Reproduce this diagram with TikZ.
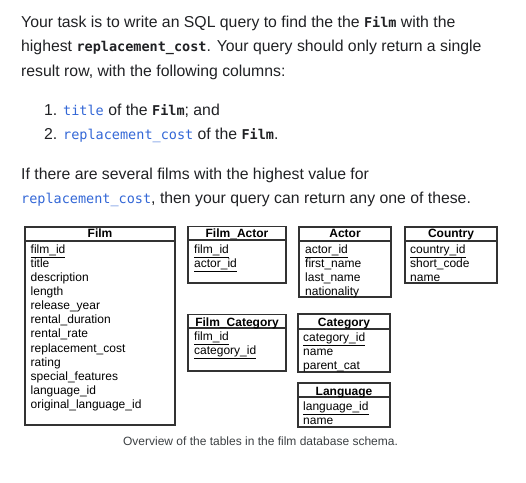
\documentclass[tikz,border=0pt]{standalone}
\usepackage{fontspec}
\setmainfont{Liberation Sans}
\setmonofont{DejaVu Sans Mono}
\newfontfamily\diagfont{Liberation Sans}
\definecolor{bodytext}{HTML}{202124}
\definecolor{codeblue}{HTML}{3367D6}
\definecolor{captext}{HTML}{3C4043}
\newcommand{\code}[1]{{\fontsize{13.5}{20}\selectfont\ttfamily\color{codeblue}#1}}
\newcommand{\bcode}[1]{{\fontsize{13.5}{20}\selectfont\ttfamily\bfseries #1}}

\begin{document}
\begin{tikzpicture}[x=1pt, y=-1pt,
    body/.style={font=\fontsize{15.8}{24}\selectfont, text=bodytext, inner sep=0, anchor=base west},
    tbl/.style={draw=black!80, line width=1.1pt},
    hdr/.style={font=\fontsize{12}{14}\selectfont\diagfont\bfseries, inner sep=0, anchor=base},
    rows/.style={font=\fontsize{12}{14.15}\selectfont\diagfont, align=left, inner sep=0,
        anchor=north west, yshift=7.9pt, execute at begin node=\strut}]
    \useasboundingbox (0,0) rectangle (526,482);

    % task text
    \node[body] (task1) at (21,27.3) {Your task is to write an SQL query to find the the \bcode{Film} with the};
    \node[body] (task2) at (21,51.7) {highest \bcode{replacement\_cost}. Your query should only return a single};
    \node[body] (task3) at (21,76) {result row, with the following columns:};
    \node[body] (item1) at (44,115) {1. \code{title} of the \bcode{Film}; and};
    \node[body] (item2) at (44,139.3) {2. \code{replacement\_cost} of the \bcode{Film}.};
    \node[body] (note1) at (21,179.3) {If there are several films with the highest value for};
    \node[body] (note2) at (21,203.3) {\code{replacement\_cost}, then your query can return any one of these.};

    % Film
    \draw[tbl] (25,227) rectangle (175,425);
    \draw[tbl] (25,241) -- (175,241);
    \node[hdr] (film) at (100,237.3) {Film};
    \node[rows] (filmrows) at (30.5,252) {\underline{film\_id}\\title\\description\\length\\release\_year\\rental\_duration\\rental\_rate\\replacement\_cost\\rating\\special\_features\\language\_id\\original\_language\_id};

    % Film_Actor
    \draw[tbl] (188,226.5) rectangle (286,283);
    \draw[tbl] (188,240) -- (286,240);
    \node[hdr] (filmactor) at (237,237) {Film\_Actor};
    \node[rows] (filmactorrows) at (194,252) {\underline{film\_id}\\\underline{actor\_id}};

    % Film_Category
    \draw[tbl] (188,314.7) rectangle (286,371);
    \draw[tbl] (188,328) -- (286,328);
    \node[hdr] (filmcat) at (237,326) {Film\_Category};
    \node[rows] (filmcatrows) at (194,339.5) {\underline{film\_id}\\\underline{category\_id}};

    % Actor
    \draw[tbl] (299,227) rectangle (391,297);
    \draw[tbl] (299,241) -- (391,241);
    \node[hdr] (actor) at (345,237.3) {Actor};
    \node[rows] (actorrows) at (305,252) {\underline{actor\_id}\\first\_name\\last\_name\\nationality};

    % Country
    \draw[tbl] (405,227) rectangle (497,283);
    \draw[tbl] (405,241) -- (497,241);
    \node[hdr] (country) at (451,237.3) {Country};
    \node[rows] (countryrows) at (410,252) {\underline{country\_id}\\short\_code\\name};

    % Category
    \draw[tbl] (298,314) rectangle (390,372);
    \draw[tbl] (298,329) -- (390,329);
    \node[hdr] (category) at (344,326) {Category};
    \node[rows] (categoryrows) at (303,340) {\underline{category\_id}\\name\\parent\_cat};

    % Language
    \draw[tbl] (298,383) rectangle (390,427);
    \draw[tbl] (298,397) -- (390,397);
    \node[hdr] (language) at (344,395) {Language};
    \node[rows] (languagerows) at (303,409) {\underline{language\_id}\\name};

    \node[font=\fontsize{12}{14}\selectfont, text=captext, inner sep=0, anchor=base] (caption) at (260.5,445) {Overview of the tables in the film database schema.};
\end{tikzpicture}
\end{document}
